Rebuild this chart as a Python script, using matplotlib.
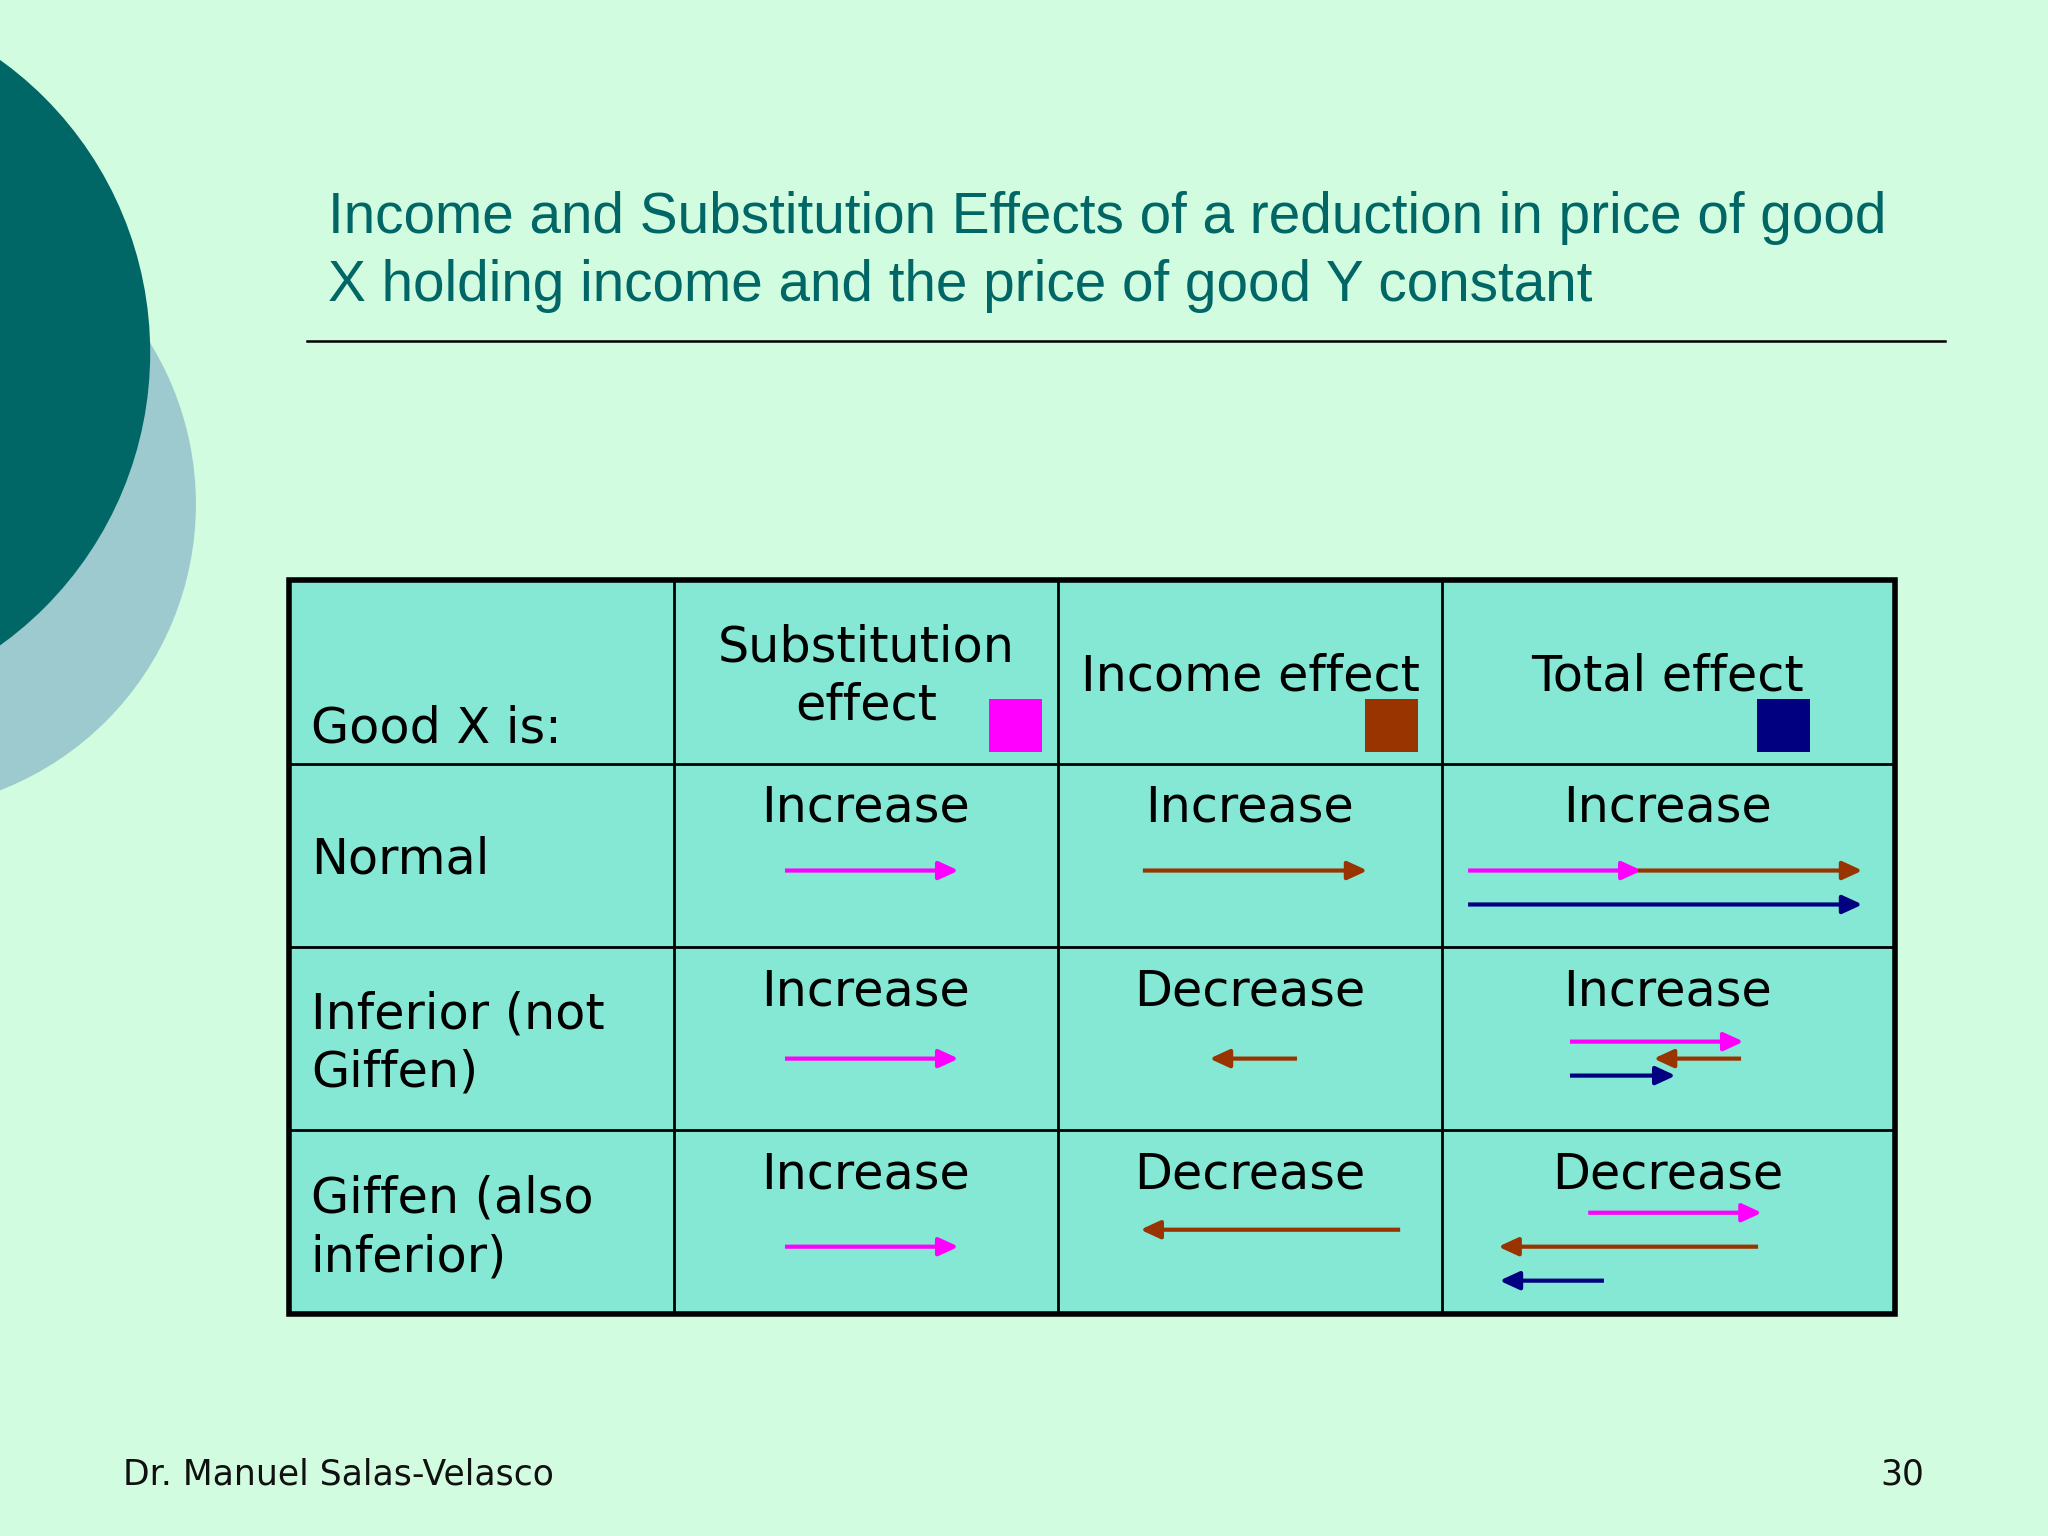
import matplotlib
matplotlib.use('Agg')
import matplotlib.pyplot as plt
from matplotlib.patches import Circle, Rectangle, FancyArrowPatch

# Slide text
title_lines = ['Income and Substitution Effects of a reduction in price of good',
               'X holding income and the price of good Y constant']
col_headers = ['Substitution\neffect', 'Income effect', 'Total effect']
row_headers = ['Normal', 'Inferior (not\nGiffen)', 'Giffen (also\ninferior)']
corner_label = 'Good X is:'
footer_left = 'Dr. Manuel Salas-Velasco'
footer_right = '30'

# Cell words
sub_words = ['Increase', 'Increase', 'Increase']
inc_words = ['Increase', 'Decrease', 'Decrease']
tot_words = ['Increase', 'Increase', 'Decrease']

# Arrow lengths (negative points left)
sub_effect = [131, 131, 131]
inc_effect = [170, -65, -197]
tot_effect = [300, 79, -78]

# Arrow starts, per row
sub_x = [601, 601, 601]
inc_x = [875, 993, 1072]
sub_y = [666.5, 810.5, 954.5]
inc_y = [666.5, 810.5, 941.5]
tot_sub_x = [1124, 1202, 1216]
tot_inc_x = [1254, 1333, 1346]
tot_tot_x = [1124, 1202, 1228]
tot_sub_y = [666.5, 797.5, 928.5]
tot_inc_y = [666.5, 810.5, 954.5]
tot_tot_y = [692.5, 823.5, 980.5]

MAGENTA = '#FF00FF'
BROWN = '#993300'
NAVY = '#000080'
TEAL = '#006666'

fig = plt.figure(figsize=(20.48, 15.36), dpi=100, facecolor='#D2FCDF')
ax = fig.add_axes([0, 0, 1, 1])
ax.set_xlim(0, 1568)
ax.set_ylim(1176, 0)
ax.axis('off')

# Circles on the left
ax.add_patch(Circle((-85, 386), 235, fc='#9CCACE', ec='none'))
ax.add_patch(Circle((-161, 270), 276, fc=TEAL, ec='none'))

# Title
ax.text(251, 167, title_lines[0], family='Liberation Sans', fontsize=40.9, color=TEAL, va='center', ha='left')
ax.text(251, 219, title_lines[1], family='Liberation Sans', fontsize=40.9, color=TEAL, va='center', ha='left')
ax.plot([235, 1489], [261, 261], color='black', lw=1.8)

# Table
col_edges = [221, 516, 810, 1104, 1451]
row_edges = [444, 585, 725, 865, 1006]
ax.add_patch(Rectangle((col_edges[0], row_edges[0]), col_edges[-1] - col_edges[0], row_edges[-1] - row_edges[0],
                       fc='#84E8D4', ec='none', zorder=1))
for x in col_edges[1:-1]:
    ax.plot([x, x], [row_edges[0], row_edges[-1]], color='black', lw=2, zorder=2)
for y in row_edges[1:-1]:
    ax.plot([col_edges[0], col_edges[-1]], [y, y], color='black', lw=2, zorder=2)
ax.add_patch(Rectangle((col_edges[0], row_edges[0]), col_edges[-1] - col_edges[0], row_edges[-1] - row_edges[0],
                       fc='none', ec='black', lw=4, zorder=3, joinstyle='miter'))

fs = 35.5
ax.text(238, 558, corner_label, fontsize=fs, va='center', ha='left')
ax.text(663, 518, col_headers[0], fontsize=fs, va='center', ha='center', linespacing=1.28)
ax.text(957, 518, col_headers[1], fontsize=fs, va='center', ha='center')
ax.text(1277, 518, col_headers[2], fontsize=fs, va='center', ha='center')

for y, label in zip([658, 799, 940], row_headers):
    ax.text(238, y, label, fontsize=fs, va='center', ha='left', linespacing=1.28)

for i, y in enumerate([618.5, 759, 899.5]):
    ax.text(663, y, sub_words[i], fontsize=fs, va='center', ha='center')
    ax.text(957, y, inc_words[i], fontsize=fs, va='center', ha='center')
    ax.text(1277, y, tot_words[i], fontsize=fs, va='center', ha='center')

# Colour key squares
for x, c in zip([757, 1045, 1345], [MAGENTA, BROWN, NAVY]):
    ax.add_patch(Rectangle((x, 535), 41, 41, fc=c, ec='none', zorder=4))


def draw_arrow(x, y, length, color):
    # tip gets pulled back by the line width, push it out again
    tip = x + length + (2 if length > 0 else -2)
    ax.add_patch(FancyArrowPatch((x, y), (tip, y), arrowstyle='-|>,head_length=12,head_width=5.5',
                                 mutation_scale=1, shrinkA=0, shrinkB=0, color=color, lw=3,
                                 capstyle='butt', zorder=5))


for i in range(3):
    draw_arrow(sub_x[i], sub_y[i], sub_effect[i], MAGENTA)
    draw_arrow(inc_x[i], inc_y[i], inc_effect[i], BROWN)
    draw_arrow(tot_sub_x[i], tot_sub_y[i], sub_effect[i], MAGENTA)
    draw_arrow(tot_inc_x[i], tot_inc_y[i], inc_effect[i], BROWN)
    draw_arrow(tot_tot_x[i], tot_tot_y[i], tot_effect[i], NAVY)

# Footer
ax.text(94, 1129, footer_left, fontsize=24.9, va='center', ha='left', color='#111111')
ax.text(1473, 1129, footer_right, fontsize=24.9, va='center', ha='right', color='#111111')

fig.savefig('out.png', dpi=100, facecolor=fig.get_facecolor())
